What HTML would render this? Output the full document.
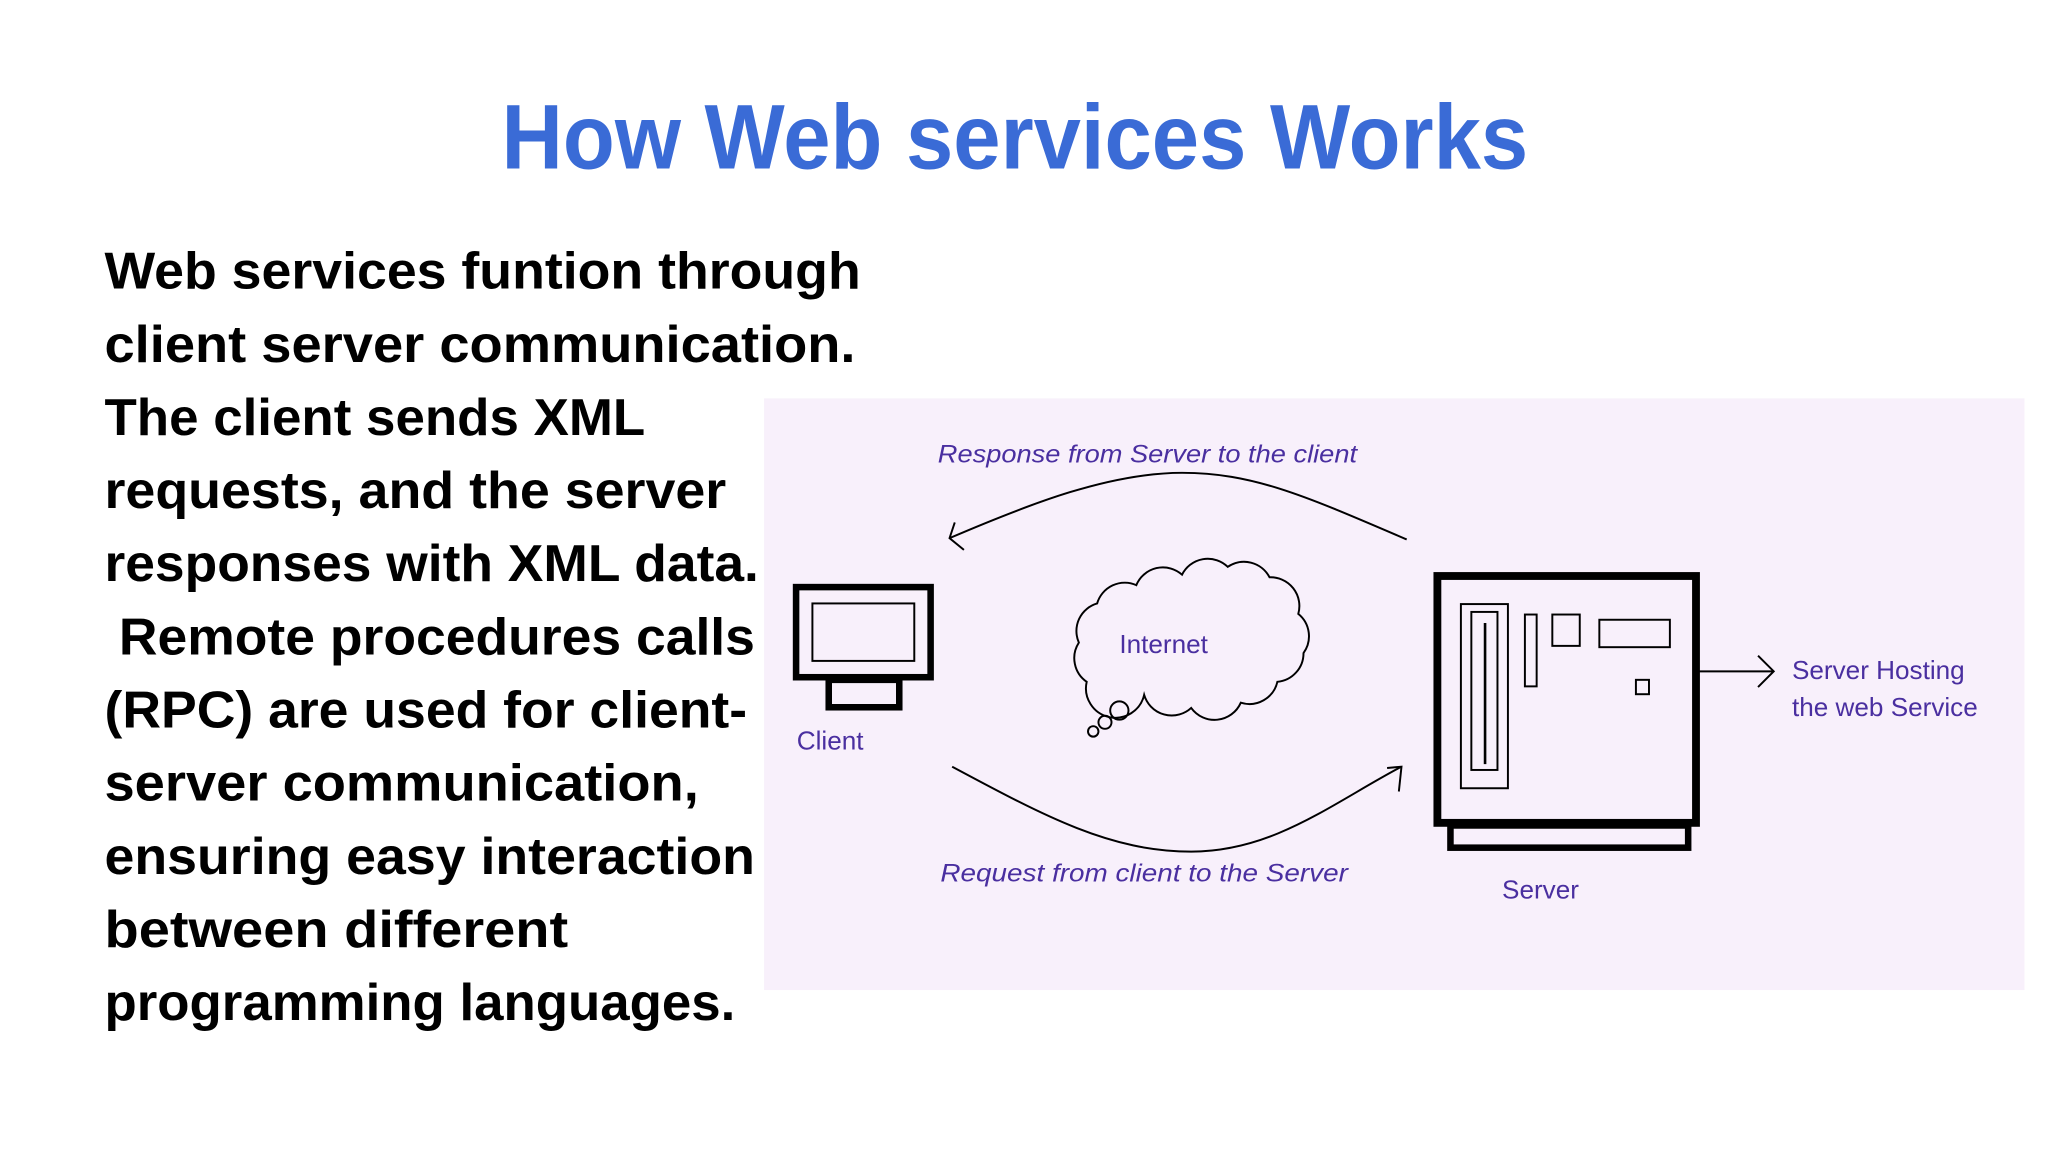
<!DOCTYPE html>
<html><head><meta charset="utf-8"><style>
html,body{margin:0;padding:0;background:#fff;width:2048px;height:1152px;overflow:hidden}
svg{display:block}
</style></head><body>
<svg width="2048" height="1152" viewBox="0 0 1568 882" xmlns="http://www.w3.org/2000/svg">
<rect width="1568" height="882" fill="#fff"/>
<text x="384" y="129" font-family="Liberation Sans, sans-serif" font-weight="bold" font-size="70" fill="#3a6bd6" textLength="786" lengthAdjust="spacingAndGlyphs">How Web services Works</text>
<g font-family="Liberation Sans, sans-serif" font-weight="bold" font-size="40" fill="#000">
<text x="80" y="221" textLength="579" lengthAdjust="spacingAndGlyphs">Web services funtion through</text>
<text x="80" y="277" textLength="575" lengthAdjust="spacingAndGlyphs">client server communication.</text>
<text x="80" y="333" textLength="414" lengthAdjust="spacingAndGlyphs">The client sends XML</text>
<text x="80" y="389" textLength="476" lengthAdjust="spacingAndGlyphs">requests, and the server</text>
<text x="80" y="445" textLength="501" lengthAdjust="spacingAndGlyphs">responses with XML data.</text>
<text x="91" y="501" textLength="487" lengthAdjust="spacingAndGlyphs">Remote procedures calls</text>
<text x="80" y="557" textLength="492" lengthAdjust="spacingAndGlyphs">(RPC) are used for client-</text>
<text x="80" y="613" textLength="455" lengthAdjust="spacingAndGlyphs">server communication,</text>
<text x="80" y="669" textLength="498" lengthAdjust="spacingAndGlyphs">ensuring easy interaction</text>
<text x="80" y="725" textLength="355" lengthAdjust="spacingAndGlyphs">between different</text>
<text x="80" y="781" textLength="483" lengthAdjust="spacingAndGlyphs">programming languages.</text>
</g>
<rect x="585" y="305" width="965" height="453" fill="#f8f0fb"/>
<rect x="609.5" y="449.5" width="103" height="69" fill="none" stroke="#000" stroke-width="5"/>
<rect x="622" y="462" width="78" height="44" fill="none" stroke="#000" stroke-width="1.5"/>
<rect x="634.5" y="520.5" width="54" height="21" fill="none" stroke="#000" stroke-width="5"/>
<rect x="1100.5" y="441" width="198" height="189" fill="none" stroke="#000" stroke-width="6"/>
<rect x="1110.5" y="632" width="182" height="17" fill="none" stroke="#000" stroke-width="5"/>
<rect x="1118.5" y="462.5" width="36" height="141" fill="none" stroke="#000" stroke-width="1.5"/>
<rect x="1126.5" y="468.5" width="20" height="121" fill="none" stroke="#000" stroke-width="1.5"/>
<line x1="1137" y1="477" x2="1137" y2="585" stroke="#000" stroke-width="2"/>
<rect x="1167.5" y="470.5" width="9" height="55" fill="none" stroke="#000" stroke-width="1.5"/>
<rect x="1188.5" y="470.5" width="21" height="24" fill="none" stroke="#000" stroke-width="1.5"/>
<rect x="1224.5" y="474.5" width="54" height="21" fill="none" stroke="#000" stroke-width="1.5"/>
<rect x="1252.5" y="520.5" width="10" height="11" fill="none" stroke="#000" stroke-width="1.5"/>
<g fill="none" stroke="#000" stroke-width="1.5">
<line x1="1301" y1="514" x2="1358" y2="514"/>
<polyline points="1346,502 1358,514 1346,526"/>
<path d="M1077,413 C1000,380 960,362 905,362 C850,362 790,385 727,412"/>
<polyline points="731,400 727,412 738,421"/>
<path d="M729,587 C800,625 850,652 912,652 C975,652 1020,615 1073,587"/>
<polyline points="1062,588 1073,587 1071,606"/>
<path fill="#f8f0fb" d="M832,522 A22,22 0 0 1 826,492 A22,22 0 0 1 840,462 A22,22 0 0 1 870,448 A22,22 0 0 1 905,440 A22,22 0 0 1 940,434 A22,22 0 0 1 972,442 A22,22 0 0 1 994,470 A22,22 0 0 1 998,500 A22,22 0 0 1 978,522 A22,22 0 0 1 950,538 A22,22 0 0 1 912,542 A22,22 0 0 1 876,532 A22,22 0 0 1 832,522 Z"/>
<circle cx="857" cy="544" r="7"/>
<circle cx="846" cy="553" r="5"/>
<circle cx="837" cy="560" r="4"/>
</g>
<g font-family="Liberation Sans, sans-serif" fill="#4a2fa0" font-size="20">
<text x="610" y="574">Client</text>
<text x="857" y="500">Internet</text>
<text x="1150" y="688">Server</text>
<text x="1372" y="520">Server Hosting</text>
<text x="1372" y="548">the web Service</text>
<text x="718" y="354" font-style="italic" font-size="19" textLength="321" lengthAdjust="spacingAndGlyphs">Response from Server to the client</text>
<text x="720" y="675" font-style="italic" font-size="19" textLength="312" lengthAdjust="spacingAndGlyphs">Request from client to the  Server</text>
</g>
</svg>
</body></html>
